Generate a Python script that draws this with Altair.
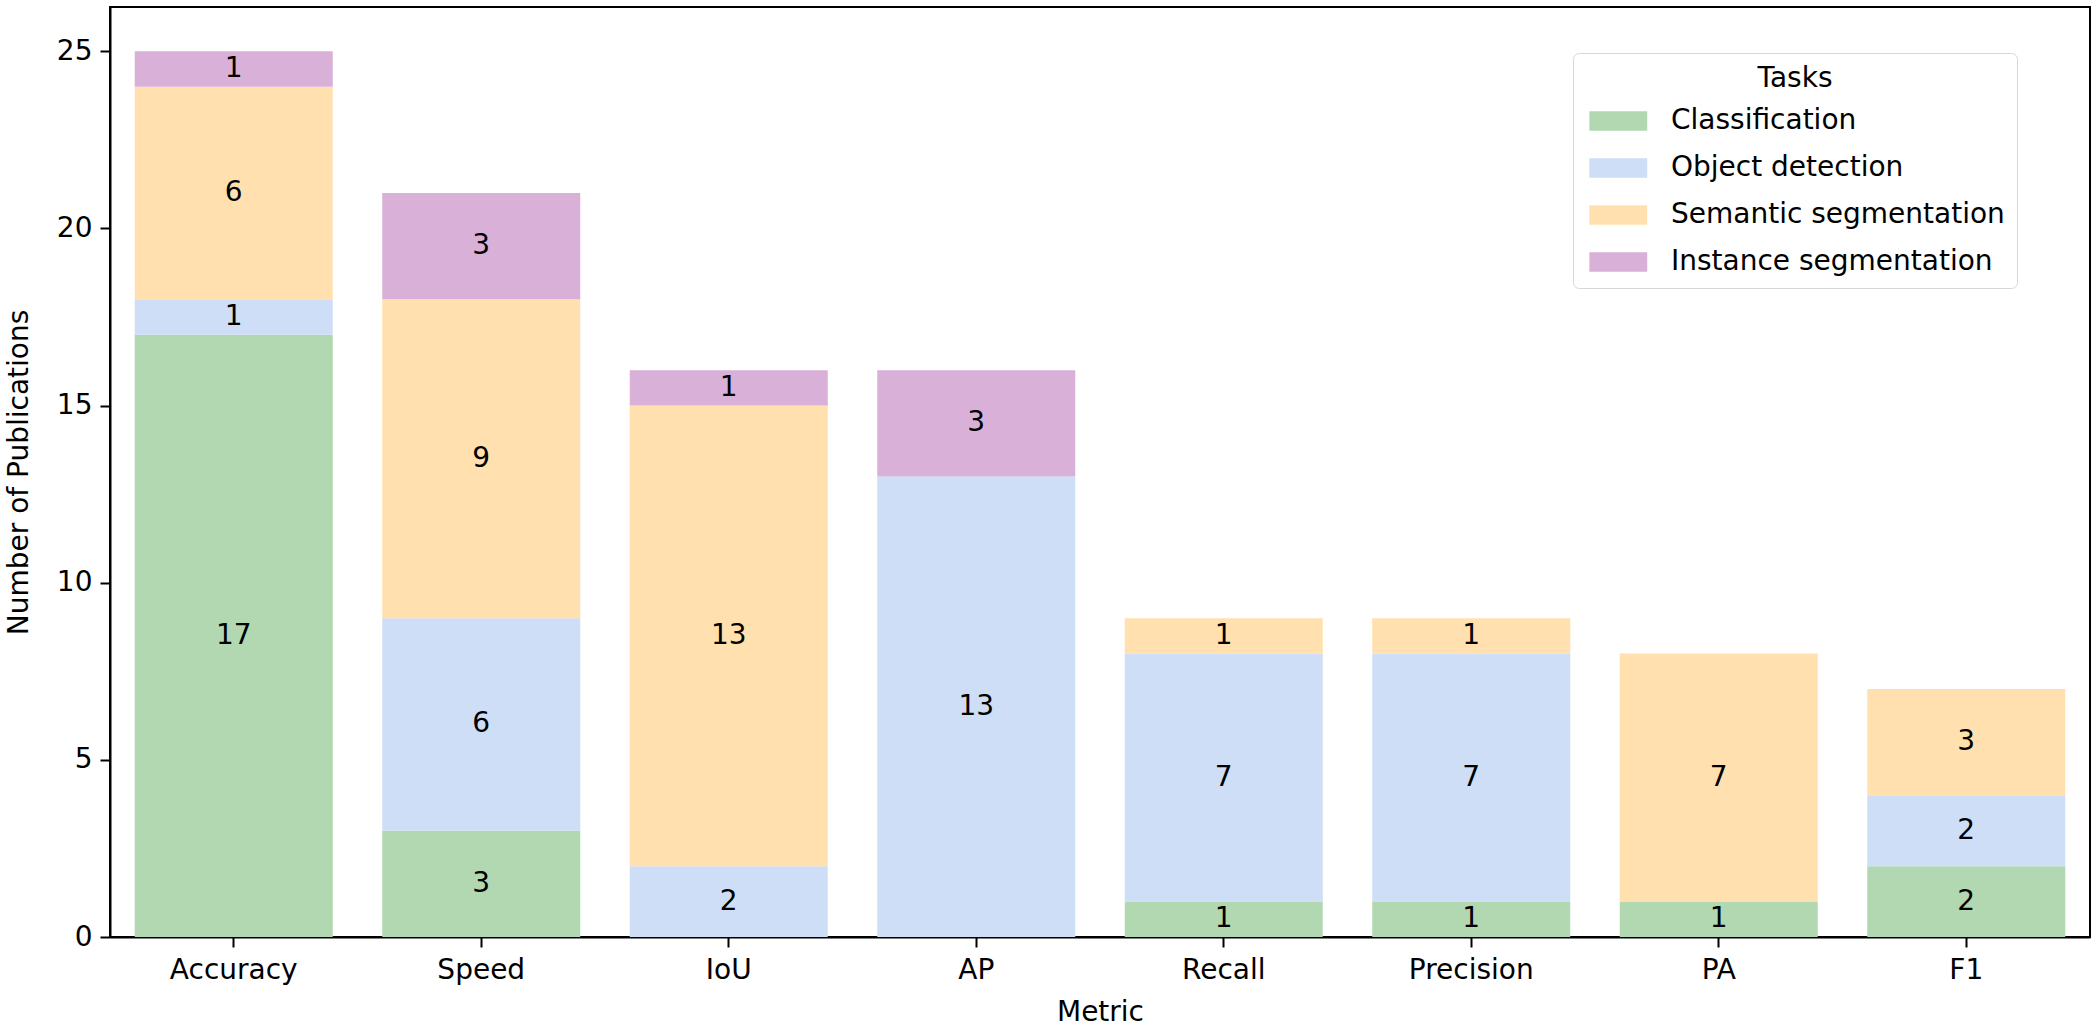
import altair as alt
import pandas as pd

metrics = ["Accuracy", "Speed", "IoU", "AP", "Recall", "Precision", "PA", "F1"]
tasks = ["Classification", "Object detection", "Semantic segmentation", "Instance segmentation"]
classification = [17, 3, 0, 0, 1, 1, 1, 2]
object_detection = [1, 6, 2, 13, 7, 7, 0, 2]
semantic_segmentation = [6, 9, 13, 0, 1, 1, 7, 3]
instance_segmentation = [1, 3, 1, 3, 0, 0, 0, 0]
colors = ["#b2d8b2", "#cddef6", "#ffe0ae", "#d8b0d8"]

rows = []
for k, (task, vals) in enumerate(zip(tasks, [classification, object_detection,
                                             semantic_segmentation, instance_segmentation])):
    for m, v in zip(metrics, vals):
        if v > 0:
            rows.append({"Metric": m, "Task": task, "Count": v, "order": k})
df = pd.DataFrame(rows)

FONT = "DejaVu Sans"

base = alt.Chart(df).transform_stack(
    stack="Count", groupby=["Metric"], as_=["y0", "y1"],
    sort=[alt.SortField("order", order="ascending")]
).transform_calculate(mid="(datum.y0 + datum.y1) / 2")

xenc = alt.X("Metric:N", sort=metrics,
             scale=alt.Scale(paddingInner=0.2, paddingOuter=0.1),
             axis=alt.Axis(title="Metric", labelAngle=0))
yscale = alt.Scale(domain=[0, 26.25], nice=False, zero=True)

bars = base.mark_bar(strokeWidth=0).encode(
    x=xenc,
    y=alt.Y("y0:Q", scale=yscale,
            axis=alt.Axis(title="Number of Publications", values=[0, 5, 10, 15, 20, 25])),
    y2="y1:Q",
    color=alt.Color("Task:N", scale=alt.Scale(domain=tasks, range=colors),
                    legend=alt.Legend(
                        title="Tasks", orient="none", legendX=1463, legendY=46,
                        titleFontSize=28, titleFont=FONT, titleFontWeight="normal",
                        titleAnchor="middle", titleColor="black", titlePadding=14,
                        labelFontSize=28, labelFont=FONT, labelColor="black", labelLimit=0,
                        symbolType="M-1,-1L5,-1L5,1L-1,1Z",
                        symbolSize=372, symbolStrokeWidth=0, symbolOpacity=1,
                        labelOffset=58, rowPadding=19,
                        strokeColor="#d6d6d6", fillColor="white", cornerRadius=6,
                        padding=12)),
    order=alt.Order("order:Q"),
)

text = base.mark_text(font=FONT, fontSize=28, color="black", baseline="middle").encode(
    x=alt.X("Metric:N", sort=metrics),
    y=alt.Y("mid:Q", scale=yscale),
    text="Count:Q",
)

chart = alt.layer(bars, text).properties(
    width=1980, height=930,
    autosize=alt.AutoSizeParams(type="none"),
    padding={"left": 110, "top": 7, "right": 9, "bottom": 91},
).configure_view(
    stroke="black", strokeWidth=2
).configure_axis(
    labelFont=FONT, labelFontSize=28, labelColor="black",
    titleFont=FONT, titleFontSize=28, titleFontWeight="normal", titleColor="black",
    domainColor="black", domainWidth=2, tickColor="black", tickWidth=2, tickSize=10,
    grid=False, labelPadding=8,
).configure_axisY(titlePadding=23).configure_axisX(titlePadding=14, labelPadding=9)

chart.save("out.html", embed_options={"renderer": "svg", "actions": False})
